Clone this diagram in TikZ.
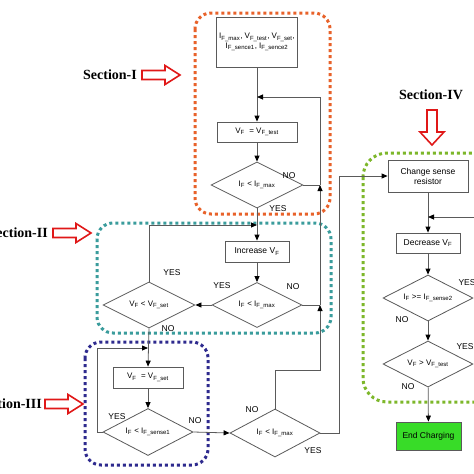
\documentclass[tikz,border=0pt]{standalone}
\usepackage{fontspec}
\setmainfont{Liberation Sans}
\newfontfamily\secfont{Liberation Serif}
\usetikzlibrary{shapes.geometric,arrows.meta,calc}
\newcommand\sbx[1]{\textsubscript{#1}}
\definecolor{ln}{HTML}{5A5A5A}
\definecolor{secI}{HTML}{E8622A}
\definecolor{secII}{HTML}{3A9C9C}
\definecolor{secIII}{HTML}{2E2A8E}
\definecolor{secIV}{HTML}{7DB72A}
\definecolor{redarr}{HTML}{E01818}
\definecolor{endg}{HTML}{38DC28}
\begin{document}
\begin{tikzpicture}[x=1pt,y=-1pt,
  box/.style={draw=ln, line width=0.8pt, fill=white, inner sep=1pt, align=center,
    font=\fontsize{8}{9.5}\selectfont},
  dia/.style={draw=ln, line width=0.8pt, fill=white, diamond, aspect=2, inner sep=0pt,
    font=\fontsize{8}{9}\selectfont},
  lbl/.style={font=\fontsize{8.5}{10}\selectfont, inner sep=0pt},
  con/.style={draw=ln, line width=0.8pt},
  arr/.style={con, -{Triangle[length=6pt,width=5pt,color=black]}},
  sect/.style={dash pattern=on 3pt off 3pt, line width=3pt, rounded corners=16pt},
  secarr/.style={draw=redarr, line width=1.6pt, fill=white, line join=miter},
  seclbl/.style={font=\secfont\bfseries\fontsize{14}{16}\selectfont, inner sep=0pt},
  harrow/.pic={\draw[secarr] (0,-4.5) -- (23,-4.5) -- (23,-9.5) -- (38,0) -- (23,9.5) -- (23,4.5) -- (0,4.5) -- cycle;},
  varrow/.pic={\draw[secarr] (-5,0) -- (-5,22) -- (-12,22) -- (0,35) -- (12,22) -- (5,22) -- (5,0) -- cycle;}
]
\clip (0,0) rectangle (474,474);
\fill[white] (0,0) rectangle (474,474);

% section frames
\draw[sect, draw=secI] (195,13) rectangle (330,214);
\draw[sect, draw=secII] (97,223) rectangle (331,333);
\draw[sect, draw=secIII] (85,342) rectangle (208,465);
\draw[sect, draw=secIV, rounded corners=24pt] (363,153) rectangle (520,402);

% section labels and arrows
\node[seclbl, anchor=east] (s1) at (137,75) {Section-I};
\pic at (142,75) {harrow};
\node[seclbl, anchor=east] (s2) at (48,233) {Section-II};
\pic at (53,233) {harrow};
\node[seclbl, anchor=east] (s3) at (42,404) {Section-III};
\pic at (45,404) {harrow};
\node[seclbl] (s4) at (431,95) {Section-IV};
\pic at (432,110) {varrow};

% nodes
\node[box, minimum width=81pt, minimum height=50pt] (top) at (257,42)
  {I\sbx{F\_max}, V\sbx{F\_test}, V\sbx{F\_set},\\ I\sbx{F\_sence1}, I\sbx{F\_sence2}};
\node[box, minimum width=80pt, minimum height=20pt] (b1) at (257,132) {V\sbx{F}\ \ = V\sbx{F\_test}};
\node[dia, minimum width=92pt, minimum height=46pt] (d1) at (257,185) {I\sbx{F} < I\sbx{F\_max}};
\node[box, minimum width=64pt, minimum height=21pt, font=\fontsize{8.5}{10}\selectfont] (b2) at (257,251.5) {Increase V\sbx{F}};
\node[dia, minimum width=90pt, minimum height=45pt] (d2) at (257,305) {I\sbx{F} < I\sbx{F\_max}};
\node[dia, minimum width=92pt, minimum height=46pt] (d3) at (149,305) {V\sbx{F} < V\sbx{F\_set}};
\node[box, minimum width=70pt, minimum height=21pt] (b3) at (148,377.5) {V\sbx{F}\ \ = V\sbx{F\_set}};
\node[dia, minimum width=90pt, minimum height=47pt] (d4) at (148,432) {I\sbx{F} < I\sbx{F\_sense1}};
\node[dia, minimum width=90pt, minimum height=48pt] (d5) at (275,433) {I\sbx{F} < I\sbx{F\_max}};
\node[box, minimum width=80pt, minimum height=32pt, font=\fontsize{8.5}{10}\selectfont] (csr) at (428,176) {Change sense\\resistor};
\node[box, minimum width=64pt, minimum height=20pt, font=\fontsize{8.5}{10}\selectfont] (b4) at (428,243) {Decrease V\sbx{F}};
\node[dia, minimum width=90pt, minimum height=46pt] (d6) at (428,298) {I\sbx{F} >= I\sbx{F\_sense2}};
\node[dia, minimum width=90pt, minimum height=46pt] (d7) at (428,364) {V\sbx{F} > V\sbx{F\_test}};
\node[box, fill=endg, minimum width=65pt, minimum height=28pt, font=\fontsize{8.5}{10}\selectfont] (b5) at (428.5,436) {End Charging};

% junction coordinates
\coordinate (jA) at (257,97);
\coordinate (jB) at (320,185);
\coordinate (jC) at (320,305);
\coordinate (jD) at (257,225);
\coordinate (jE) at (148,348);
\coordinate (jF) at (275,370);
\coordinate (jG) at (97,432);
\coordinate (jH) at (339,433);
\coordinate (jI) at (428,217);
\coordinate (jR) at (480,217);

% connectors
\draw[arr] (top) -- (b1);
\draw[arr] (jB) |- (jA);
\draw[arr] (b1) -- (d1);
\draw[con] (d1.east) -- (jB);
\draw[arr] (d1) -- (b2);
\draw[arr] (d3.north) |- (jD);
\draw[arr] (b2) -- (d2);
\draw[con] (d2.east) -- (jC);
\draw[arr] (jC) -- (jB);
\draw[arr] (d5.north) -- (jF) -| (jC);
\draw[arr] (d2.west) -- (d3.east);
\draw[arr] (d3.south) -- (b3.north);
\draw[arr] (d4.west) -- (jG) |- (jE);
\draw[arr] (b3) -- (d4);
\draw[arr] (d4.east) -- (d5.west);
\draw[arr] (d5.east) -- (jH) |- (csr.west);
\draw[arr] (csr) -- (b4);
\draw[arr] (jR) -- (jI);
\draw[arr] (b4) -- (d6);
\draw[arr] (d6) -- (d7);
\draw[arr] (d7) -- (b5);

% branch labels
\node[lbl] (l1) at (289,176) {NO};
\node[lbl] (l2) at (278,209) {YES};
\node[lbl] (l3) at (222,286) {YES};
\node[lbl] (l4) at (293,287) {NO};
\node[lbl] (l5) at (172,273) {YES};
\node[lbl] (l6) at (168,329) {NO};
\node[lbl] (l7) at (117,417) {YES};
\node[lbl] (l8) at (195,421) {NO};
\node[lbl] (l9) at (252,410) {NO};
\node[lbl] (l10) at (313,451) {YES};
\node[lbl] (l11) at (467,283) {YES};
\node[lbl] (l12) at (402,320) {NO};
\node[lbl] (l13) at (465,347) {YES};
\node[lbl] (l14) at (408,387) {NO};
\end{tikzpicture}
\end{document}
